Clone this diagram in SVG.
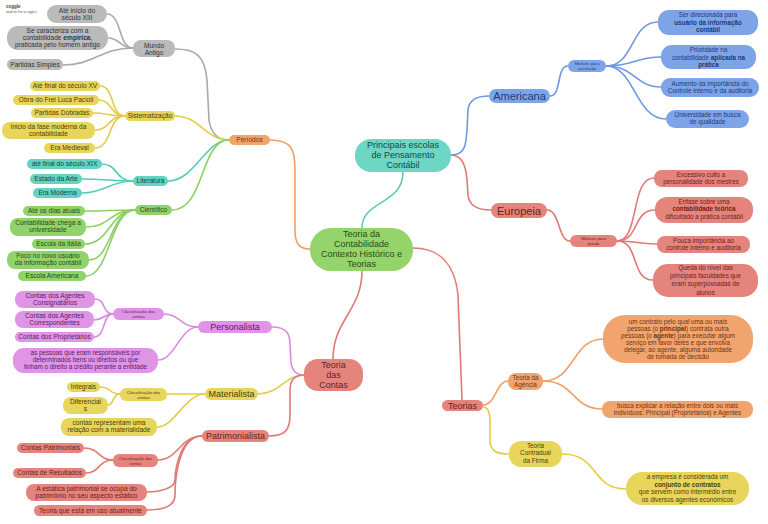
<svg xmlns="http://www.w3.org/2000/svg" width="768" height="524" viewBox="0 0 768 524">
<style>
text{font-family:"Liberation Sans",Arial,sans-serif;text-anchor:middle}
.s{font-size:6.6px}.s2{font-size:6.3px}.t{font-size:4.3px}.m{font-size:9px}.l{font-size:11px}
.b{font-weight:bold}
.gy rect{fill:#bababa}.gy text{fill:#333}
.ye rect{fill:#e8d55c}.ye text{fill:#4d4200}
.tq rect{fill:#64d3c1}.tq text{fill:#0f4a41}
.gr rect{fill:#8fd36a}.gr text{fill:#2d4b14}
.or rect{fill:#f2a46e}.or text{fill:#6b3413}
.pk rect{fill:#df94e6}.pk text{fill:#5a1d62}
.rd rect{fill:#e5847d}.rd text{fill:#6a1f1b}
.bl rect{fill:#7ea4e8}.bl text{fill:#1d3a78}
#connectors path{fill:none;stroke-width:1.6;stroke-linecap:round}
.cgy{stroke:#a9a9a9}.cye{stroke:#e3cc47}.ctq{stroke:#57cdb9}.cgr{stroke:#8ccf63}.cor{stroke:#f0a066}.cpk{stroke:#d98ae0}.crd{stroke:#e07a72}.cbl{stroke:#6f98e0}
</style>
<rect width="768" height="524" fill="#fff"/>
<g id="logo"><text x="6" y="8" style="font-size:4.5px;font-weight:bold;text-anchor:start;fill:#444">coggle</text><text x="6" y="13" style="font-size:2.8px;text-anchor:start;fill:#555">made for free at coggle.it</text></g>

<g id="connectors">
<path class="cgy" d="M133,48 C118,48 122,14 107,14"/>
<path class="cgy" d="M133,48 C120,48 120,38 108,38"/>
<path class="cgy" d="M133,48 C100,48 95,65 63,65"/>
<path class="cgy" d="M175,49 C195,49 205,55 207,80 L209,120 C211,134 218,140 229,140"/>
<path class="cye" d="M175,116 C200,116 205,140 229,140"/>
<path class="cye" d="M125,116 C110,116 115,86 100,86"/>
<path class="cye" d="M125,116 C110,116 112,100 99,100"/>
<path class="cye" d="M125,116 C108,116 108,113 93,113"/>
<path class="cye" d="M125,116 C108,116 110,130 95,130"/>
<path class="cye" d="M125,116 C108,116 112,148 95,148"/>
<path class="ctq" d="M168,181 C195,181 205,140 229,140"/>
<path class="ctq" d="M133,181 C115,181 118,164 102,164"/>
<path class="ctq" d="M133,181 C110,181 105,179 82,179"/>
<path class="ctq" d="M133,181 C110,181 105,193 82,193"/>
<path class="cgr" d="M172,210 C205,210 200,140 229,140"/>
<path class="cgr" d="M135,210 C110,210 110,211 85,211"/>
<path class="cgr" d="M135,210 C110,210 110,227 86,227"/>
<path class="cgr" d="M135,210 C110,210 110,244 85,244"/>
<path class="cgr" d="M135,210 C110,210 112,260 89,260"/>
<path class="cgr" d="M135,210 C110,210 110,276 86,276"/>
<path class="cor" d="M270,140 C292,140 295,150 295,170 L295,230 C295,245 300,249 310,249"/>
<path class="ctq" d="M362,228 C362,200 403,205 403,172"/>
<path class="crd" d="M362,271 C362,310 333,320 333,359"/>
<path class="crd" d="M413,248 C440,248 455,265 458,295 L462,400"/>
<path class="cpk" d="M272,327 C288,327 290,335 290,345 L291,362 C292,372 297,375 304,375"/>
<path class="cpk" d="M198,327 C180,327 180,314 164,314"/>
<path class="cpk" d="M198,327 C180,327 175,360 158,360"/>
<path class="cpk" d="M113,314 C102,314 106,299 95,299"/>
<path class="cpk" d="M113,314 C103,314 104,320 94,320"/>
<path class="cpk" d="M113,314 C102,314 106,337 94,337"/>
<path class="cye" d="M258,394 C280,394 285,375 304,375"/>
<path class="cye" d="M205,394 C188,394 184,394 167,394"/>
<path class="cye" d="M205,394 C185,394 175,427 157,427"/>
<path class="cye" d="M120,394 C108,394 112,387 100,387"/>
<path class="cye" d="M120,394 C112,394 114,405 108,405"/>
<path class="crd" d="M269,436 C285,436 290,430 290,415 L290,390 C290,380 295,375 304,375"/>
<path class="crd" d="M202,436 C180,436 178,460 158,460"/>
<path class="crd" d="M202,436 C180,436 175,470 175,480 C175,488 160,492 147,492"/>
<path class="crd" d="M202,436 C180,436 175,475 175,495 C175,505 165,510 147,510"/>
<path class="crd" d="M113,460 C98,460 100,448 84,448"/>
<path class="crd" d="M113,460 C98,460 100,473 86,473"/>
<path class="cbl" d="M451,155 C465,155 466,145 467,130 L468,110 C469,99 478,96 489,96"/>
<path class="crd" d="M451,155 C462,155 466,165 467,180 L468,195 C469,206 478,210 491,210"/>
<path class="cbl" d="M550,96 C562,96 556,66 568,66"/>
<path class="cbl" d="M606,66 C635,66 630,22 658,22"/>
<path class="cbl" d="M606,66 C635,66 635,57 661,57"/>
<path class="cbl" d="M606,66 C635,66 635,87 661,87"/>
<path class="cbl" d="M606,66 C635,66 635,119 666,119"/>
<path class="crd" d="M547,210 C560,210 558,241 570,241"/>
<path class="crd" d="M617,241 C640,241 630,178 654,178"/>
<path class="crd" d="M617,241 C640,241 632,210 655,210"/>
<path class="crd" d="M617,241 C640,241 635,244 657,244"/>
<path class="crd" d="M617,241 C640,241 630,280 653,280"/>
<path class="cor" d="M483,405 C496,405 496,381 508,381"/>
<path class="cor" d="M543,381 C575,381 572,339 603,339"/>
<path class="cor" d="M543,381 C575,381 572,409 602,409"/>
<path class="cye" d="M483,407 C491,407 490,420 490,430 L490,440 C490,452 498,454 509,454"/>
<path class="cye" d="M562,454 C600,454 590,489 626,489"/>
</g>

<g id="mundo-antigo" class="gy"><rect x="133" y="40" width="42" height="17" rx="8"/><text class="s"><tspan x="154" y="47.5">Mundo</tspan><tspan x="154" y="54.5">Antigo</tspan></text></g>
<g id="ate-inicio-xiii" class="gy"><rect x="47" y="5" width="60" height="18" rx="9"/><text class="s"><tspan x="77" y="12.5">Até início do</tspan><tspan x="77" y="19.8">século XIII</tspan></text></g>
<g id="empirica" class="gy"><rect x="7" y="26" width="101" height="24" rx="11"/><text class="s"><tspan x="57.5" y="32.6">Se caracteriza com a</tspan><tspan x="57.5" y="39.8">contabilidade <tspan class="b">empírica</tspan>,</tspan><tspan x="57.5" y="47">praticada pelo homem antigo</tspan></text></g>
<g id="partidas-simples" class="gy"><rect x="7" y="59" width="56" height="11" rx="5.5"/><text class="s" x="35" y="66.8">Partidas Simples</text></g>

<g id="periodos" class="or"><rect x="229" y="135" width="41" height="10" rx="5"/><text class="s" x="249.5" y="142.3">Períodos</text></g>

<g id="sistematizacao" class="ye"><rect x="125" y="111" width="50" height="10" rx="5"/><text class="s" x="150" y="118.3">Sistematização</text></g>
<g id="ate-final-xv" class="ye"><rect x="30" y="81" width="70" height="10" rx="5"/><text class="s" x="65" y="88.3">Até final do século XV</text></g>
<g id="pacioli" class="ye"><rect x="13" y="95" width="86" height="10" rx="5"/><text class="s" x="56" y="102.3">Obra do Frei Luca Pacioli</text></g>
<g id="partidas-dobradas" class="ye"><rect x="31" y="108" width="62" height="10" rx="5"/><text class="s" x="62" y="115.3">Partidas Dobradas</text></g>
<g id="fase-moderna" class="ye"><rect x="2" y="122" width="93" height="17" rx="8"/><text class="s"><tspan x="48.5" y="128.6">Inicio da fase moderna da</tspan><tspan x="48.5" y="135.8">contabilidade</tspan></text></g>
<g id="era-medieval" class="ye"><rect x="44" y="143" width="51" height="10" rx="5"/><text class="s" x="69.5" y="150.3">Era Medieval</text></g>

<g id="literatura" class="tq"><rect x="133" y="176" width="35" height="10" rx="5"/><text class="s" x="150.5" y="183.3">Literatura</text></g>
<g id="ate-final-xix" class="tq"><rect x="27" y="159" width="75" height="10" rx="5"/><text class="s" x="64.5" y="166.3">até final do século XIX</text></g>
<g id="estado-arte" class="tq"><rect x="30" y="174" width="52" height="10" rx="5"/><text class="s" x="56" y="181.3">Estado da Arte</text></g>
<g id="era-moderna" class="tq"><rect x="33" y="188" width="49" height="10" rx="5"/><text class="s" x="57.5" y="195.3">Era Moderna</text></g>

<g id="cientifico" class="gr"><rect x="135" y="205" width="37" height="10" rx="5"/><text class="s" x="153.5" y="212.3">Científico</text></g>
<g id="dias-atuais" class="gr"><rect x="23" y="206" width="62" height="10" rx="5"/><text class="s" x="54" y="213.3">Até os dias atuais</text></g>
<g id="universidade" class="gr"><rect x="10" y="218" width="76" height="18" rx="8"/><text class="s"><tspan x="48" y="225">Contabilidade chega a</tspan><tspan x="48" y="232.2">universidade</tspan></text></g>
<g id="escola-italia" class="gr"><rect x="32" y="239" width="53" height="10" rx="5"/><text class="s" x="58.5" y="246.3">Escola da Itália</text></g>
<g id="foco-usuario" class="gr"><rect x="7" y="251" width="82" height="18" rx="8"/><text class="s"><tspan x="48" y="258">Foco no novo usuário</tspan><tspan x="48" y="265.2">da informação contábil</tspan></text></g>
<g id="escola-americana" class="gr"><rect x="18" y="271" width="68" height="10" rx="5"/><text class="s" x="52" y="278.3">Escola Americana</text></g>

<g id="central" class="gr"><rect x="310" y="228" width="103" height="43" rx="21" style="fill:#94d46b"/><text class="m"><tspan x="361.5" y="237.3">Teoria da</tspan><tspan x="361.5" y="247.3">Contabilidade</tspan><tspan x="361.5" y="257.3">Contexto Histórico e</tspan><tspan x="361.5" y="267.3">Teorias</tspan></text></g>
<g id="principais-escolas" class="tq"><rect x="355" y="139" width="96" height="33" rx="16" style="fill:#6dd6c4"/><text class="m"><tspan x="403" y="148.2">Principais escolas</tspan><tspan x="403" y="158.2">de Pensamento</tspan><tspan x="403" y="168.2">Contábil</tspan></text></g>
<g id="teoria-contas" class="rd"><rect x="304" y="359" width="59" height="32" rx="14"/><text class="m"><tspan x="333.5" y="368.2">Teoria</tspan><tspan x="333.5" y="378.2">das</tspan><tspan x="333.5" y="388.2">Contas</tspan></text></g>

<g id="personalista" class="pk"><rect x="198" y="321" width="74" height="12" rx="6"/><text class="m" x="235" y="330.3">Personalista</text></g>
<g id="classificacao-pk" class="pk"><rect x="113" y="308" width="51" height="12" rx="6"/><text class="t"><tspan x="138.5" y="313">Classificação das</tspan><tspan x="138.5" y="318.3">contas</tspan></text></g>
<g id="consignatarios" class="pk"><rect x="15" y="291" width="80" height="17" rx="8"/><text class="s"><tspan x="55" y="297.5">Contas dos Agentes</tspan><tspan x="55" y="304.7">Consignatários</tspan></text></g>
<g id="correspondentes" class="pk"><rect x="15" y="311" width="79" height="17" rx="8"/><text class="s"><tspan x="54.5" y="317.5">Contas dos Agentes</tspan><tspan x="54.5" y="324.7">Correspondentes</tspan></text></g>
<g id="proprietarios" class="pk"><rect x="15" y="332" width="79" height="10" rx="5"/><text class="s" x="54.5" y="339.3">Contas dos Proprietários</text></g>
<g id="pessoas" class="pk"><rect x="13" y="348" width="145" height="25" rx="11"/><text class="s2"><tspan x="85.5" y="354.6">as pessoas que eram responsáveis por</tspan><tspan x="85.5" y="361.8">determinados bens ou direitos ou que</tspan><tspan x="85.5" y="369">tinham o direito a crédito perante a entidade</tspan></text></g>

<g id="materialista" class="ye"><rect x="205" y="388" width="53" height="12" rx="6"/><text class="m" x="231.5" y="397.3">Materialista</text></g>
<g id="classificacao-ye" class="ye"><rect x="120" y="388" width="47" height="13" rx="6"/><text class="t"><tspan x="143.5" y="393.5">Classificação dos</tspan><tspan x="143.5" y="399">contas</tspan></text></g>
<g id="integrais" class="ye"><rect x="67" y="382" width="33" height="10" rx="5"/><text class="s" x="83.5" y="389.3">Integrais</text></g>
<g id="diferenciais" class="ye"><rect x="63" y="397" width="45" height="17" rx="8"/><text class="s"><tspan x="85.5" y="403.5">Diferenciai</tspan><tspan x="85.5" y="410.7">s</tspan></text></g>
<g id="materialidade" class="ye"><rect x="61" y="418" width="96" height="18" rx="8"/><text class="s"><tspan x="109" y="425">contas representam uma</tspan><tspan x="109" y="432.2">relação com a materialidade</tspan></text></g>

<g id="patrimonialista" class="rd"><rect x="202" y="430" width="67" height="12" rx="6"/><text class="m" x="235.5" y="439.3">Patrimonialista</text></g>
<g id="classificacao-rd" class="rd"><rect x="113" y="454" width="45" height="13" rx="6"/><text class="t"><tspan x="135.5" y="459.5">Classificação das</tspan><tspan x="135.5" y="465">contas</tspan></text></g>
<g id="contas-patrimoniais" class="rd"><rect x="17" y="443" width="67" height="10" rx="5"/><text class="s" x="50.5" y="450.3">Contas Patrimoniais</text></g>
<g id="contas-resultados" class="rd"><rect x="13" y="468" width="73" height="10" rx="5"/><text class="s" x="49.5" y="475.3">Contas de Resultados</text></g>
<g id="estatica" class="rd"><rect x="26" y="484" width="121" height="17" rx="8"/><text class="s"><tspan x="86.5" y="490.5">A estática patrimonial se ocupa do</tspan><tspan x="86.5" y="497.7">patrimônio no seu aspecto estático</tspan></text></g>
<g id="uso-atual" class="rd"><rect x="34" y="505" width="113" height="11" rx="5.5"/><text class="s" x="90.5" y="512.8">Teoria que está em uso atualmente</text></g>

<g id="americana" class="bl"><rect x="489" y="89" width="61" height="14" rx="7"/><text class="l" x="519.5" y="100">Americana</text></g>
<g id="motivos-ascensao" class="bl"><rect x="568" y="60" width="38" height="12" rx="6"/><text class="t"><tspan x="587" y="65">Motivos para</tspan><tspan x="587" y="70.3">ascensão</tspan></text></g>
<g id="usuario" class="bl"><rect x="658" y="10" width="100" height="25" rx="11"/><text class="s2"><tspan x="708" y="17">Ser direcionada para</tspan><tspan x="708" y="24.5" class="b">usuário da informação</tspan><tspan x="708" y="32" class="b">contábil</tspan></text></g>
<g id="aplicada" class="bl"><rect x="661" y="45" width="95" height="24" rx="11"/><text class="s2"><tspan x="708.5" y="52">Prioridade na</tspan><tspan x="708.5" y="59.5">contabilidade <tspan class="b">aplicada na</tspan></tspan><tspan x="708.5" y="67" class="b">prática</tspan></text></g>
<g id="controle-interno" class="bl"><rect x="661" y="78" width="98" height="19" rx="9"/><text class="s2"><tspan x="710" y="85.5">Aumento da importância do</tspan><tspan x="710" y="92.7">Controle interno e da auditoria</tspan></text></g>
<g id="universidade-qualidade" class="bl"><rect x="666" y="110" width="83" height="18" rx="9"/><text class="s2"><tspan x="707.5" y="117.2">Universidade em busca</tspan><tspan x="707.5" y="124.4">de qualidade</tspan></text></g>

<g id="europeia" class="rd"><rect x="491" y="203" width="56" height="15" rx="7.5"/><text class="l" x="519" y="214.5">Europeia</text></g>
<g id="motivos-queda" class="rd"><rect x="570" y="235" width="47" height="12" rx="6"/><text class="t"><tspan x="593.5" y="240">Motivos para</tspan><tspan x="593.5" y="245.3">queda</tspan></text></g>
<g id="culto" class="rd"><rect x="654" y="170" width="94" height="17" rx="8"/><text class="s2"><tspan x="701" y="176.6">Excessivo culto a</tspan><tspan x="701" y="183.8">personalidade dos mestres</tspan></text></g>
<g id="teorica" class="rd"><rect x="655" y="197" width="98" height="26" rx="12"/><text class="s2"><tspan x="704" y="203.8">Enfase sobre uma</tspan><tspan x="704" y="211.3" class="b">contabilidade teórica</tspan><tspan x="704" y="218.8">dificultado a prática contábil</tspan></text></g>
<g id="pouca-importancia" class="rd"><rect x="657" y="236" width="93" height="17" rx="8"/><text class="s2"><tspan x="703.5" y="242.6">Pouca importância ao</tspan><tspan x="703.5" y="249.8">controle interno e auditoria</tspan></text></g>
<g id="queda-nivel" class="rd"><rect x="653" y="264" width="105" height="33" rx="15"/><text class="s2"><tspan x="705.5" y="270">Queda do nível das</tspan><tspan x="705.5" y="278.2">principais faculdades que</tspan><tspan x="705.5" y="286.4">eram superpovoadas de</tspan><tspan x="705.5" y="294.6">alunos</tspan></text></g>

<g id="teorias" class="rd"><rect x="442" y="400" width="41" height="11" rx="5.5"/><text class="m" x="462.5" y="408.7">Teorias</text></g>
<g id="agencia" class="or"><rect x="508" y="373" width="35" height="17" rx="8"/><text class="s2"><tspan x="525.5" y="379.6">Teoria da</tspan><tspan x="525.5" y="386.8">Agência</tspan></text></g>
<g id="contrato" class="or"><rect x="603" y="315" width="150" height="48" rx="22"/><text class="s2"><tspan x="678" y="323.7">um contrato pelo qual uma ou mais</tspan><tspan x="678" y="330.7">pessoas (o <tspan class="b">principal</tspan>) contrata outra</tspan><tspan x="678" y="337.7">pessoas (o <tspan class="b">agente</tspan>) para executar algum</tspan><tspan x="678" y="344.7">serviço em favor deles e que envolva</tspan><tspan x="678" y="351.7">delegar, ao agente, alguma autoridade</tspan><tspan x="678" y="358.7">de tomada de decisão</tspan></text></g>
<g id="busca" class="or"><rect x="602" y="401" width="151" height="17" rx="8"/><text class="s2"><tspan x="677.5" y="407.6">busca explicar a relação entre dois ou mais</tspan><tspan x="677.5" y="414.8">indivíduos: Principal (Proprietários) e Agentes</tspan></text></g>

<g id="firma" class="ye"><rect x="509" y="441" width="53" height="26" rx="12"/><text class="s2"><tspan x="535.5" y="447.8">Teoria</tspan><tspan x="535.5" y="455.3">Contradual</tspan><tspan x="535.5" y="462.8">da Firma</tspan></text></g>
<g id="empresa" class="ye"><rect x="626" y="472" width="123" height="33" rx="16"/><text class="s2"><tspan x="687.5" y="479">a empresa é considerada um</tspan><tspan x="687.5" y="486.5" class="b">conjunto de contratos</tspan><tspan x="687.5" y="494">que servem como intermédio entre</tspan><tspan x="687.5" y="501.5">os diversos agentes econômicos</tspan></text></g>
</svg>
